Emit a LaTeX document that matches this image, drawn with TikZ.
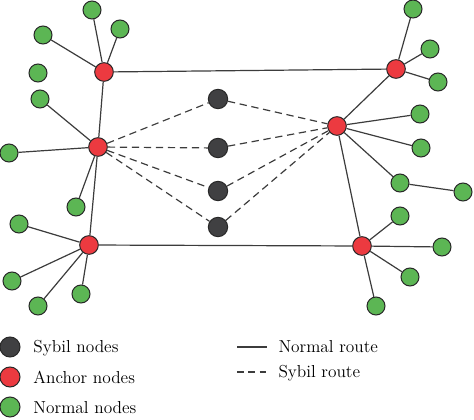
\documentclass[tikz,border=0pt]{standalone}
\usepackage{tikz}
\usetikzlibrary{backgrounds}

\definecolor{sybilfill}{RGB}{64,64,66}
\definecolor{anchorfill}{RGB}{236,58,64}
\definecolor{normalfill}{RGB}{92,182,84}
\definecolor{edgegray}{RGB}{60,60,60}

\tikzset{every picture/.style={line width=0.75pt}}
\tikzset{
  peer/.style={circle,draw={rgb,255:red,40;green,40;blue,40},line width=0.75pt,inner sep=0pt,minimum size=13.5pt},
  sybilpeer/.style={peer,fill=sybilfill,minimum size=14.5pt},
  anchorpeer/.style={peer,fill=anchorfill,minimum size=14pt},
  normalpeer/.style={peer,fill=normalfill},
  route/.style={draw=edgegray,line width=0.9pt},
  fakeroute/.style={route,dash pattern=on 5.5pt off 3.5pt},
  legendtext/.style={anchor=base west,inner sep=0.75pt,font=\fontsize{13}{15}\selectfont}
}

\begin{document}
\begin{tikzpicture}[x=0.75pt,y=0.75pt,yscale=-1,xscale=1]
\useasboundingbox (0,0) rectangle (474,420);

%Shape: Circle (anchor nodes)
\node [anchorpeer] (a1) at (104,72) {};
\node [anchorpeer] (a2) at (98,147) {};
\node [anchorpeer] (a3) at (89,245) {};
\node [anchorpeer] (a4) at (396,69) {};
\node [anchorpeer] (a5) at (337,126) {};
\node [anchorpeer] (a6) at (362,246) {};

%Shape: Circle (sybil nodes)
\node [sybilpeer] (s1) at (218,99) {};
\node [sybilpeer] (s2) at (218,148) {};
\node [sybilpeer] (s3) at (218,191) {};
\node [sybilpeer] (s4) at (218,227) {};

%Shape: Circle (normal nodes, left)
\node [normalpeer] (n1) at (92,10) {};
\node [normalpeer] (n2) at (120,29) {};
\node [normalpeer] (n3) at (43,35) {};
\node [normalpeer] (n4) at (38,73) {};
\node [normalpeer] (n5) at (40,99) {};
\node [normalpeer] (n6) at (9,153) {};
\node [normalpeer] (n7) at (76,207) {};
\node [normalpeer] (n8) at (19,224) {};
\node [normalpeer] (n9) at (12,281) {};
\node [normalpeer] (n10) at (38,306) {};
\node [normalpeer] (n11) at (81,294) {};
%Shape: Circle (normal nodes, right)
\node [normalpeer] (n12) at (413,9) {};
\node [normalpeer] (n13) at (430,49) {};
\node [normalpeer] (n14) at (438,82) {};
\node [normalpeer] (n15) at (420,114) {};
\node [normalpeer] (n16) at (421,148) {};
\node [normalpeer] (n17) at (400,183) {};
\node [normalpeer] (n18) at (463,192) {};
\node [normalpeer] (n19) at (400,216) {};
\node [normalpeer] (n20) at (442,247) {};
\node [normalpeer] (n21) at (410,277) {};
\node [normalpeer] (n22) at (376,306) {};

\begin{scope}[on background layer]
%Straight Lines (normal routes)
\foreach \u/\v in {a1/a4,a1/a2,a1/n1,a1/n2,a1/n3,a2/n5,a2/n6,a2/n7,a2/a3,
  a3/n8,a3/n9,a3/n10,a3/n11,a3/a6,a4/n12,a4/n13,a4/n14,a4/a5,
  a5/n15,a5/n16,a5/n17,n17/n18,a5/a6,a6/n19,a6/n20,a6/n21,a6/n22}
  \draw [route] (\u) -- (\v);
%Straight Lines (sybil routes)
\foreach \s in {s1,s2,s3,s4}{
  \draw [fakeroute] (a2) -- (\s);
  \draw [fakeroute] (\s) -- (a5);
}
\end{scope}

%Legend
\node [sybilpeer,minimum size=15pt] (k1) at (10,347) {};
\node [anchorpeer,minimum size=15pt] (k2) at (10,377) {};
\node [normalpeer,minimum size=15pt] (k3) at (10,407) {};
\coordinate (r1a) at (237,347);
\coordinate (r1b) at (267,347);
\coordinate (r2a) at (237,372);
\coordinate (r2b) at (267,372);
\draw [route] (r1a) -- (r1b);
\draw [route,dash pattern=on 5pt off 3.5pt] (r2a) -- (r2b);

% Text Node
\draw (32,352) node [legendtext] {Sybil nodes};
% Text Node
\draw (32,383) node [legendtext] {Anchor nodes};
% Text Node
\draw (32,413) node [legendtext] {Normal nodes};
% Text Node
\draw (277,352) node [legendtext] {Normal route};
% Text Node
\draw (277,377) node [legendtext] {Sybil route};

\end{tikzpicture}
\end{document}
